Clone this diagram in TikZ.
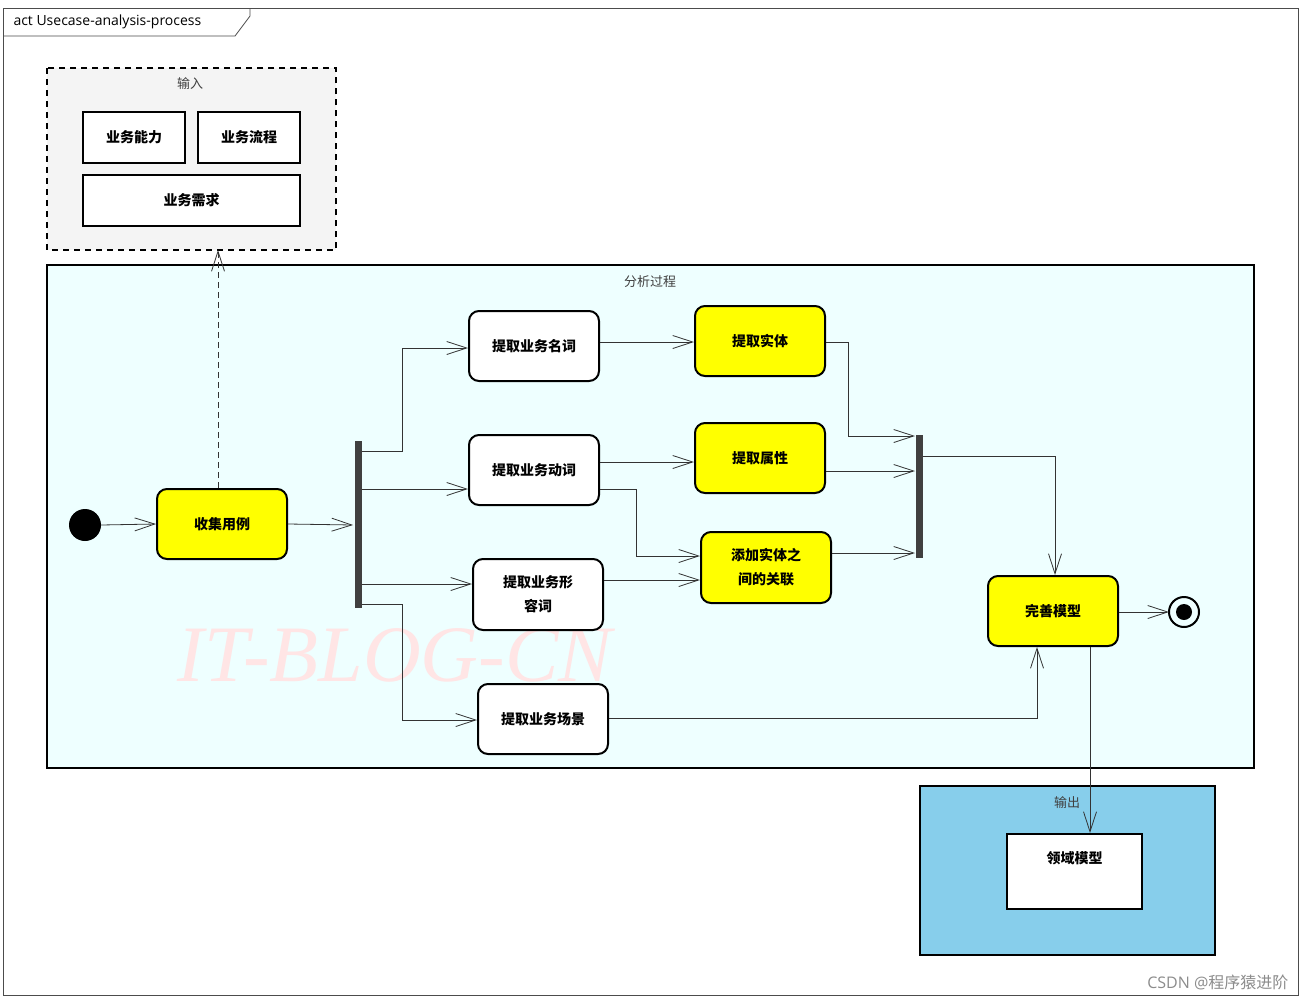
\documentclass[tikz,border=0pt]{standalone}
\usepackage{fontspec}
\setmainfont{Noto Sans CJK SC}
\newfontfamily\latinf{Open Sans}
\newfontfamily\wmf{Liberation Serif}
\usetikzlibrary{arrows.meta}
\definecolor{ylw}{RGB}{255,255,0}
\definecolor{anbg}{RGB}{238,255,255}
\definecolor{outbg}{RGB}{135,206,235}
\definecolor{inbg}{RGB}{244,244,244}
\begin{document}
\begin{tikzpicture}[x=1pt,y=-1pt,
  act/.style={draw,line width=2pt,rounded corners=10pt,font=\bfseries\fontsize{14}{24}\selectfont,align=center,inner sep=0},
  box/.style={draw,line width=2pt,fill=white,font=\bfseries\fontsize{14}{17}\selectfont,inner sep=0},
  bar/.style={fill=black!75,draw=none},
  flow/.style={draw=black!80,line width=0.8pt,-{Straight Barb[length=20pt,width=13pt,line width=0.8pt]}},
  lbl/.style={font=\fontsize{13}{15}\selectfont}]
\useasboundingbox (0,0) rectangle (1306,1001);
\fill[white] (0,0) rectangle (1306,1001);
% frame
\draw[black!70,line width=0.8pt] (3,8) rectangle (1298,995);
\draw[black!70,line width=0.8pt] (3,36) -- (235,36) -- (250,16) -- (250,8);
\node[font=\latinf\fontsize{14}{16}\selectfont,anchor=west] (title) at (10,22) {act Usecase-analysis-process};
% input
\draw[dashed,line width=2pt,fill=inbg,dash pattern=on 6pt off 5pt] (47,68) rectangle (336,250);
\coordinate (inbot) at (218,250);
\node[lbl,text=black!75] (inl) at (190,84) {输入};
\node[box,minimum width=102pt,minimum height=51pt] (nl) at (134,137.5) {业务能力};
\node[box,minimum width=102pt,minimum height=51pt] (lc) at (249,137.5) {业务流程};
\node[box,minimum width=217pt,minimum height=51pt] (xq) at (191.5,200.5) {业务需求};
% analysis
\draw[line width=2pt,fill=anbg] (47,265) rectangle (1254,768);
\node[lbl,text=black!75] (anl) at (650,282) {分析过程};
% output
\draw[line width=2pt,fill=outbg] (920,786) rectangle (1215,955);
\node[lbl,text=black!75] (outl) at (1067,803) {输出};
\node[box,minimum width=135pt,minimum height=75pt] (ly) at (1074.5,871.5) {};
\node[font=\bfseries\fontsize{14}{17}\selectfont] at (1074.5,858) {领域模型};
% watermark
\node[font=\wmf\itshape\fontsize{80}{80}\selectfont,text=red!10] (wm) at (395,655) {IT-BLOG-CN};
\node[font=\fontsize{16}{18}\selectfont,text=black!45,anchor=east] (csdn) at (1292,982) {{\latinf CSDN @}程序猿进阶};
% nodes
\fill (85,525) circle (16);
\coordinate (init) at (101,525);
\node[act,fill=ylw,minimum width=130pt,minimum height=70pt] (sj) at (222,524) {收集用例};
\fill[bar] (354.5,441) rectangle (361.5,608);
\node[act,fill=white,minimum width=130pt,minimum height=70pt] (mc) at (534,346) {提取业务名词};
\node[act,fill=white,minimum width=130pt,minimum height=70pt] (dc) at (534,470) {提取业务动词};
\node[act,fill=white,minimum width=130pt,minimum height=71pt] (xr) at (538,594.5) {提取业务形\\容词};
\node[act,fill=white,minimum width=130pt,minimum height=70pt] (cj) at (543,719) {提取业务场景};
\node[act,fill=ylw,minimum width=130pt,minimum height=70pt] (st) at (760,341) {提取实体};
\node[act,fill=ylw,minimum width=130pt,minimum height=70pt] (sx) at (760,458) {提取属性};
\node[act,fill=ylw,minimum width=130pt,minimum height=71pt] (gl) at (766,567.5) {添加实体之\\间的关联};
\fill[bar] (915.5,435) rectangle (922.5,558);
\node[act,fill=ylw,minimum width=130pt,minimum height=70pt] (ws) at (1053,611) {完善模型};
\fill (1184,612) circle (8);
\draw[line width=2pt] (1184,612) circle (15);
\coordinate (fin) at (1169,612);
% edges
\draw[flow] (init) -- (sj.west);
\draw[flow,dashed,dash pattern=on 6pt off 4pt] (sj.north -| inbot) -- (inbot);
\draw[flow] (sj.east) -- (353,525);
\draw[flow] (362,451) -- (402,451) -- (402,348) -- (mc.west |- 0,348);
\draw[flow] (362,489) -- (dc.west |- 0,489);
\draw[flow] (362,584) -- (xr.west |- 0,584);
\draw[flow] (362,604) -- (402,604) -- (402,720) -- (cj.west |- 0,720);
\draw[flow] (mc.east |- 0,342) -- (st.west |- 0,342);
\draw[flow] (st.east |- 0,342) -- (848,342) -- (848,436) -- (915,436);
\draw[flow] (dc.east |- 0,462) -- (sx.west |- 0,462);
\draw[flow] (dc.east |- 0,489) -- (636,489) -- (636,556) -- (gl.west |- 0,556);
\draw[flow] (xr.east |- 0,580) -- (gl.west |- 0,580);
\draw[flow] (sx.east |- 0,471) -- (915,471);
\draw[flow] (gl.east |- 0,553) -- (915,553);
\draw[flow] (923,456) -- (1055,456) -- (ws.north -| 1055,0);
\draw[flow] (cj.east |- 0,718) -- (1037,718) -- (ws.south -| 1037,0);
\draw[flow] (ws.east |- 0,612) -- (fin);
\draw[flow] (ws.south -| 1090,0) -- (ly.north -| 1090,0);
\end{tikzpicture}
\end{document}
